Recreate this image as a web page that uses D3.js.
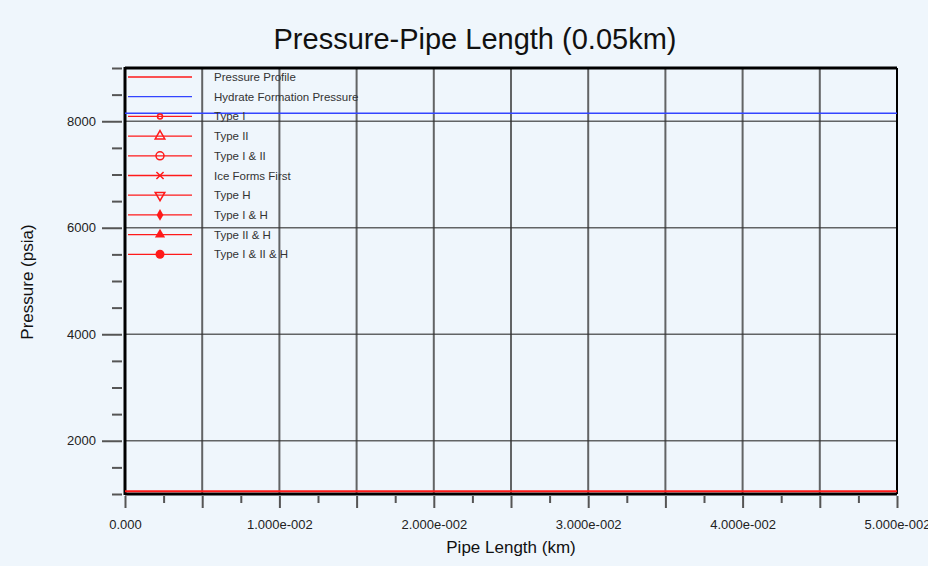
<!DOCTYPE html>
<html>
<head>
<meta charset="utf-8">
<title>Pressure-Pipe Length</title>
<script src="https://cdn.jsdelivr.net/npm/d3@7"></script>
<style>
  body{margin:0;background:#eff6fc;font-family:"Liberation Sans",Arial,sans-serif;}
  svg{display:block;}
</style>
</head>
<body>
<div id="chart"></div>
<script>
// data
var lengthKm = [0, 0.05]
var pressureProfile = [1050, 1050]
var hydratePressure = [8150, 8150]
var xTicks = [0, 0.01, 0.02, 0.03, 0.04, 0.05]
var yTicks = [2000, 4000, 6000, 8000]
var legendNames = ["Pressure Profile", "Hydrate Formation Pressure", "Type I", "Type II", "Type I & II",
                   "Ice Forms First", "Type H", "Type I & H", "Type II & H", "Type I & II & H"]
var legendMarks = ["none", "none", "smallcircle", "triangle", "circle", "cross", "down", "diamond", "filltri", "dot"]

var W = 928, H = 566
var m = {left: 125, right: 31, top: 68, bottom: 72}
var svg = d3.select("#chart").append("svg").attr("width", W).attr("height", H)

var x = d3.scaleLinear().domain([0, 0.05]).range([m.left, W - m.right])
var y = d3.scaleLinear().domain([1000, 9000]).range([H - m.bottom, m.top])

// grid
svg.append("g").selectAll("line").data(d3.range(0, 0.0501, 0.005)).join("line")
  .attr("x1", d => x(d)).attr("x2", d => x(d)).attr("y1", y(9000)).attr("y2", y(1000))
  .attr("stroke", "#333").attr("stroke-opacity", 0.75).attr("stroke-width", 2)
svg.append("g").selectAll("line").data(yTicks).join("line")
  .attr("x1", x(0)).attr("x2", x(0.05)).attr("y1", d => y(d)).attr("y2", d => y(d))
  .attr("stroke", "#333").attr("stroke-opacity", 0.75).attr("stroke-width", 1.5)

// axes
var yAxis = svg.append("g").attr("transform", "translate(" + (m.left - 3) + ",0)")
  .call(d3.axisLeft(y).tickValues(yTicks).tickSize(20).tickPadding(6).tickFormat(d3.format("d")))
svg.append("g").attr("transform", "translate(" + (m.left - 3) + ",0)")
  .call(d3.axisLeft(y).tickValues(d3.range(1000, 9001, 500).filter(d => yTicks.indexOf(d) < 0)).tickSize(10).tickFormat(""))
  .call(g => g.select(".domain").remove())
var xAxis = svg.append("g").attr("transform", "translate(0," + (H - m.bottom + 2) + ")")
  .call(d3.axisBottom(x).tickValues(xTicks).tickSize(0).tickPadding(24)
    .tickFormat(d => d == 0 ? "0.000" : d.toExponential(3).replace("e-2", "e-002")))
svg.append("g").attr("transform", "translate(0," + (H - m.bottom + 2) + ")")
  .call(d3.axisBottom(x).tickValues(d3.range(0, 0.0501, 0.005)).tickSize(12).tickFormat(""))
  .call(g => g.select(".domain").remove())
svg.append("g").attr("transform", "translate(0," + (H - m.bottom + 2) + ")")
  .call(d3.axisBottom(x).tickValues(d3.range(0.0025, 0.05, 0.005)).tickSize(7).tickFormat(""))
  .call(g => g.select(".domain").remove())
svg.selectAll(".domain").attr("stroke", "none")
svg.selectAll(".tick line").attr("stroke", "#555").attr("stroke-width", 2)
svg.selectAll(".tick text").attr("font-size", 13).attr("fill", "#222")
  .attr("font-family", "'Liberation Sans',Arial,sans-serif")

// frame
svg.append("line").attr("x1", x(0)).attr("x2", x(0)).attr("y1", y(9000) - 1).attr("y2", y(1000) + 1)
  .attr("stroke", "#000").attr("stroke-width", 3)
svg.append("line").attr("x1", x(0)).attr("x2", x(0.05)).attr("y1", y(9000)).attr("y2", y(9000))
  .attr("stroke", "#000").attr("stroke-width", 3)
svg.append("line").attr("x1", x(0.05)).attr("x2", x(0.05)).attr("y1", y(9000)).attr("y2", y(1000))
  .attr("stroke", "#000").attr("stroke-width", 2)
svg.append("line").attr("x1", x(0)).attr("x2", x(0.05)).attr("y1", y(1000)).attr("y2", y(1000))
  .attr("stroke", "#000").attr("stroke-width", 3)

// series
var line = d3.line().x((d, i) => x(lengthKm[i])).y(d => y(d))
svg.append("path").datum(hydratePressure).attr("d", line).attr("fill", "none").attr("stroke", "#3344ff").attr("stroke-width", 1.5)
svg.append("path").datum(pressureProfile).attr("d", line).attr("fill", "none").attr("stroke", "#ff1a1a").attr("stroke-width", 2)

// legend
var lg = svg.append("g")
legendNames.forEach(function(name, i) {
  var ly = 77 + i * 19.7
  var c = i == 1 ? "#3344ff" : "#ff1a1a"
  lg.append("line").attr("x1", 128).attr("x2", 192).attr("y1", ly).attr("y2", ly).attr("stroke", c).attr("stroke-width", 1.3)
  var mk = legendMarks[i], cx = 160
  if (mk == "smallcircle") lg.append("circle").attr("cx", cx).attr("cy", ly).attr("r", 2.5).attr("fill", "none").attr("stroke", c).attr("stroke-width", 1.5)
  if (mk == "circle") lg.append("circle").attr("cx", cx).attr("cy", ly).attr("r", 4).attr("fill", "none").attr("stroke", c).attr("stroke-width", 1.5)
  if (mk == "dot") lg.append("circle").attr("cx", cx).attr("cy", ly).attr("r", 4.5).attr("fill", c)
  if (mk == "triangle") lg.append("path").attr("d", d3.symbol(d3.symbolTriangle, 40)()).attr("transform", "translate(" + cx + "," + ly + ")").attr("fill", "none").attr("stroke", c).attr("stroke-width", 1.5)
  if (mk == "filltri") lg.append("path").attr("d", d3.symbol(d3.symbolTriangle, 45)()).attr("transform", "translate(" + cx + "," + ly + ")").attr("fill", c)
  if (mk == "down") lg.append("path").attr("d", d3.symbol(d3.symbolTriangle, 40)()).attr("transform", "translate(" + cx + "," + ly + ") rotate(180)").attr("fill", "none").attr("stroke", c).attr("stroke-width", 1.5)
  if (mk == "diamond") lg.append("path").attr("d", d3.symbol(d3.symbolDiamond, 40)()).attr("transform", "translate(" + cx + "," + ly + ")").attr("fill", c)
  if (mk == "cross") lg.append("path").attr("d", d3.symbol(d3.symbolX, 35)()).attr("transform", "translate(" + cx + "," + ly + ")").attr("fill", "none").attr("stroke", c).attr("stroke-width", 1.5)
  lg.append("text").attr("x", 214).attr("y", ly + 4).text(name).attr("font-size", 11.5).attr("fill", "#333")
})

// titles
svg.append("text").attr("x", 475).attr("y", 49).attr("text-anchor", "middle").attr("font-size", 29).attr("fill", "#111").text("Pressure-Pipe Length (0.05km)")
svg.append("text").attr("x", 511).attr("y", 553).attr("text-anchor", "middle").attr("font-size", 17).attr("fill", "#111").text("Pipe Length (km)")
svg.append("text").attr("transform", "translate(33,282) rotate(-90)").attr("text-anchor", "middle").attr("font-size", 17).attr("fill", "#111").text("Pressure (psia)")
</script>
</body>
</html>
